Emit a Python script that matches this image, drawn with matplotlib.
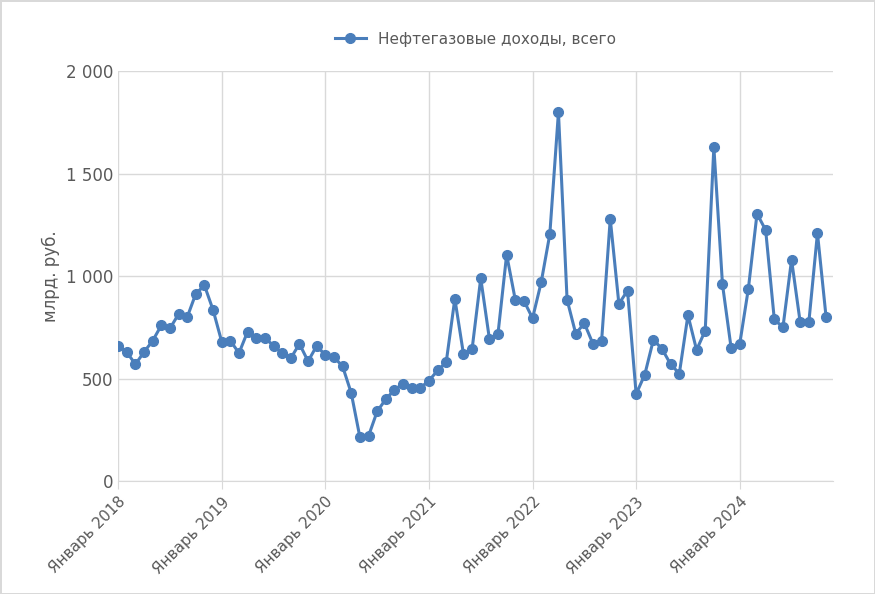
import numpy as np
import matplotlib.pyplot as plt
from matplotlib.ticker import FuncFormatter

years = [2018, 2019, 2020, 2021, 2022, 2023, 2024]
year_labels = [f"Январь {y}" for y in years]

# млрд. руб., помесячно с января 2018
values = [
    660, 630, 570, 630, 685, 760, 745, 815, 800, 915, 955, 835,
    680, 685, 625, 730, 700, 700, 660, 625, 600, 670, 585, 660,
    615, 605, 560, 430, 215, 220, 340, 400, 445, 475, 455, 455,
    490, 540, 580, 890, 620, 645, 990, 695, 720, 1105, 885, 880,
    795, 970, 1205, 1800, 885, 720, 770, 670, 685, 1280, 865, 930,
    425, 520, 690, 645, 570, 525, 810, 640, 735, 1630, 960, 650,
    670, 940, 1305, 1225, 790, 750, 1080, 775, 775, 1210, 800,
]

x = np.arange(len(values))
color = "#4a7ebb"

fig, ax = plt.subplots(figsize=(8.75, 5.94), dpi=100)
fig.subplots_adjust(left=0.135, right=0.952, top=0.88, bottom=0.19)

ax.plot(x, values, color=color, lw=2.2, marker="o", ms=7,
        label="Нефтегазовые доходы, всего")

ax.set_ylim(0, 2000)
ax.set_yticks([0, 500, 1000, 1500, 2000])
ax.yaxis.set_major_formatter(FuncFormatter(lambda v, p: f"{int(v):,}".replace(",", " ")))
ax.set_xlim(0, 82.8)
ax.set_xticks(np.arange(len(years)) * 12)
ax.set_xticklabels(year_labels, rotation=45, ha="right", rotation_mode="anchor")

ax.grid(True, which="major", color="#d9d9d9", lw=1)
ax.set_axisbelow(True)
for s in ["top", "right", "left"]:
    ax.spines[s].set_visible(False)
ax.spines["bottom"].set_color("#d9d9d9")
ax.tick_params(axis="y", length=0, labelsize=12, colors="#595959")
ax.tick_params(axis="x", length=6, color="#d9d9d9", labelsize=11, labelcolor="#595959")
ax.set_ylabel("млрд. руб.", fontsize=12, color="#595959")

ax.legend(loc="upper center", bbox_to_anchor=(0.5, 1.13), frameon=False,
          fontsize=11, labelcolor="#595959")

fig.patch.set_edgecolor("#d9d9d9")
fig.patch.set_linewidth(1)
fig.savefig("out.png", dpi=100, edgecolor=fig.get_edgecolor())
